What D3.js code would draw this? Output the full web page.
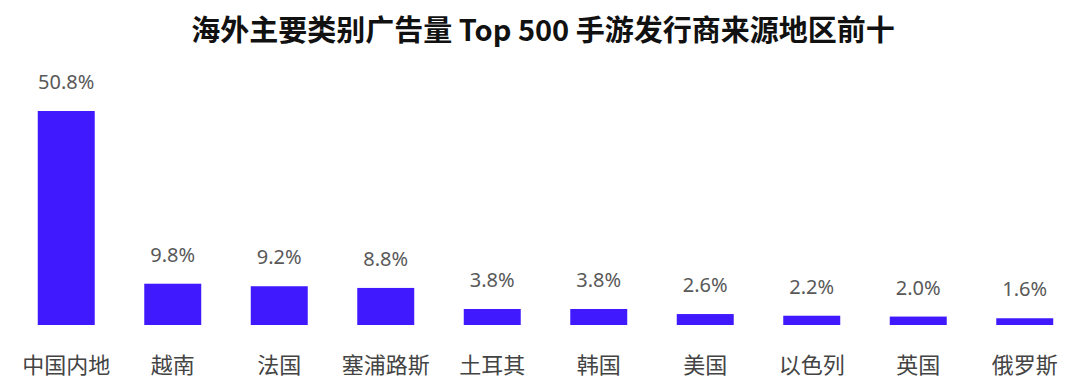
<!DOCTYPE html>
<html>
<head>
<meta charset="utf-8">
<script src="https://cdn.jsdelivr.net/npm/d3@7"></script>
<style>
  body { margin: 0; background: #fff; }
  svg { display: block; }
</style>
</head>
<body>
<div id="chart"></div>
<script>
(() => {
  const title = "海外主要类别广告量 Top 500 手游发行商来源地区前十";
  const regions = ["中国内地", "越南", "法国", "塞浦路斯", "土耳其", "韩国", "美国", "以色列", "英国", "俄罗斯"];
  const shares = [50.8, 9.8, 9.2, 8.8, 3.8, 3.8, 2.6, 2.2, 2.0, 1.6];

  const W = 1080, H = 389;
  const baseline = 325;

  const svg = d3.select("#chart")
    .append("svg")
    .attr("width", W)
    .attr("height", H);

  const x = d3.scaleBand()
    .domain(regions)
    .range([13, 1078])
    .paddingInner(0.465)
    .paddingOuter(0.2325);

  const y = d3.scaleLinear()
    .domain([0, 50.8])
    .range([baseline, 111]);

  svg.append("text")
    .attr("x", W / 2 + 3)
    .attr("y", 28)
    .attr("text-anchor", "middle")
    .attr("dominant-baseline", "central")
    .attr("font-family", "'Noto Sans CJK SC', 'Noto Sans', sans-serif")
    .attr("font-weight", "bold")
    .attr("font-size", 29)
    .attr("fill", "#111")
    .text(title);

  const data = regions.map((r, i) => ({ region: r, value: shares[i] }));

  svg.selectAll("rect.bar")
    .data(data)
    .enter()
    .append("rect")
    .attr("class", "bar")
    .attr("x", d => x(d.region))
    .attr("y", d => y(d.value))
    .attr("width", x.bandwidth())
    .attr("height", d => baseline - y(d.value))
    .attr("fill", "#4119ff");

  svg.selectAll("text.val")
    .data(data)
    .enter()
    .append("text")
    .attr("class", "val")
    .attr("x", d => x(d.region) + x.bandwidth() / 2)
    .attr("y", d => y(d.value) - 22)
    .attr("text-anchor", "middle")
    .attr("font-family", "'Noto Sans', 'Open Sans', sans-serif")
    .attr("font-size", 20)
    .attr("fill", "#595959")
    .text(d => d.value.toFixed(1) + "%");

  svg.selectAll("text.cat")
    .data(data)
    .enter()
    .append("text")
    .attr("class", "cat")
    .attr("x", d => x(d.region) + x.bandwidth() / 2)
    .attr("y", 363)
    .attr("text-anchor", "middle")
    .attr("dominant-baseline", "central")
    .attr("font-family", "'Noto Sans CJK SC', sans-serif")
    .attr("font-size", 22)
    .attr("fill", "#444")
    .text(d => d.region);
})();
</script>
</body>
</html>
